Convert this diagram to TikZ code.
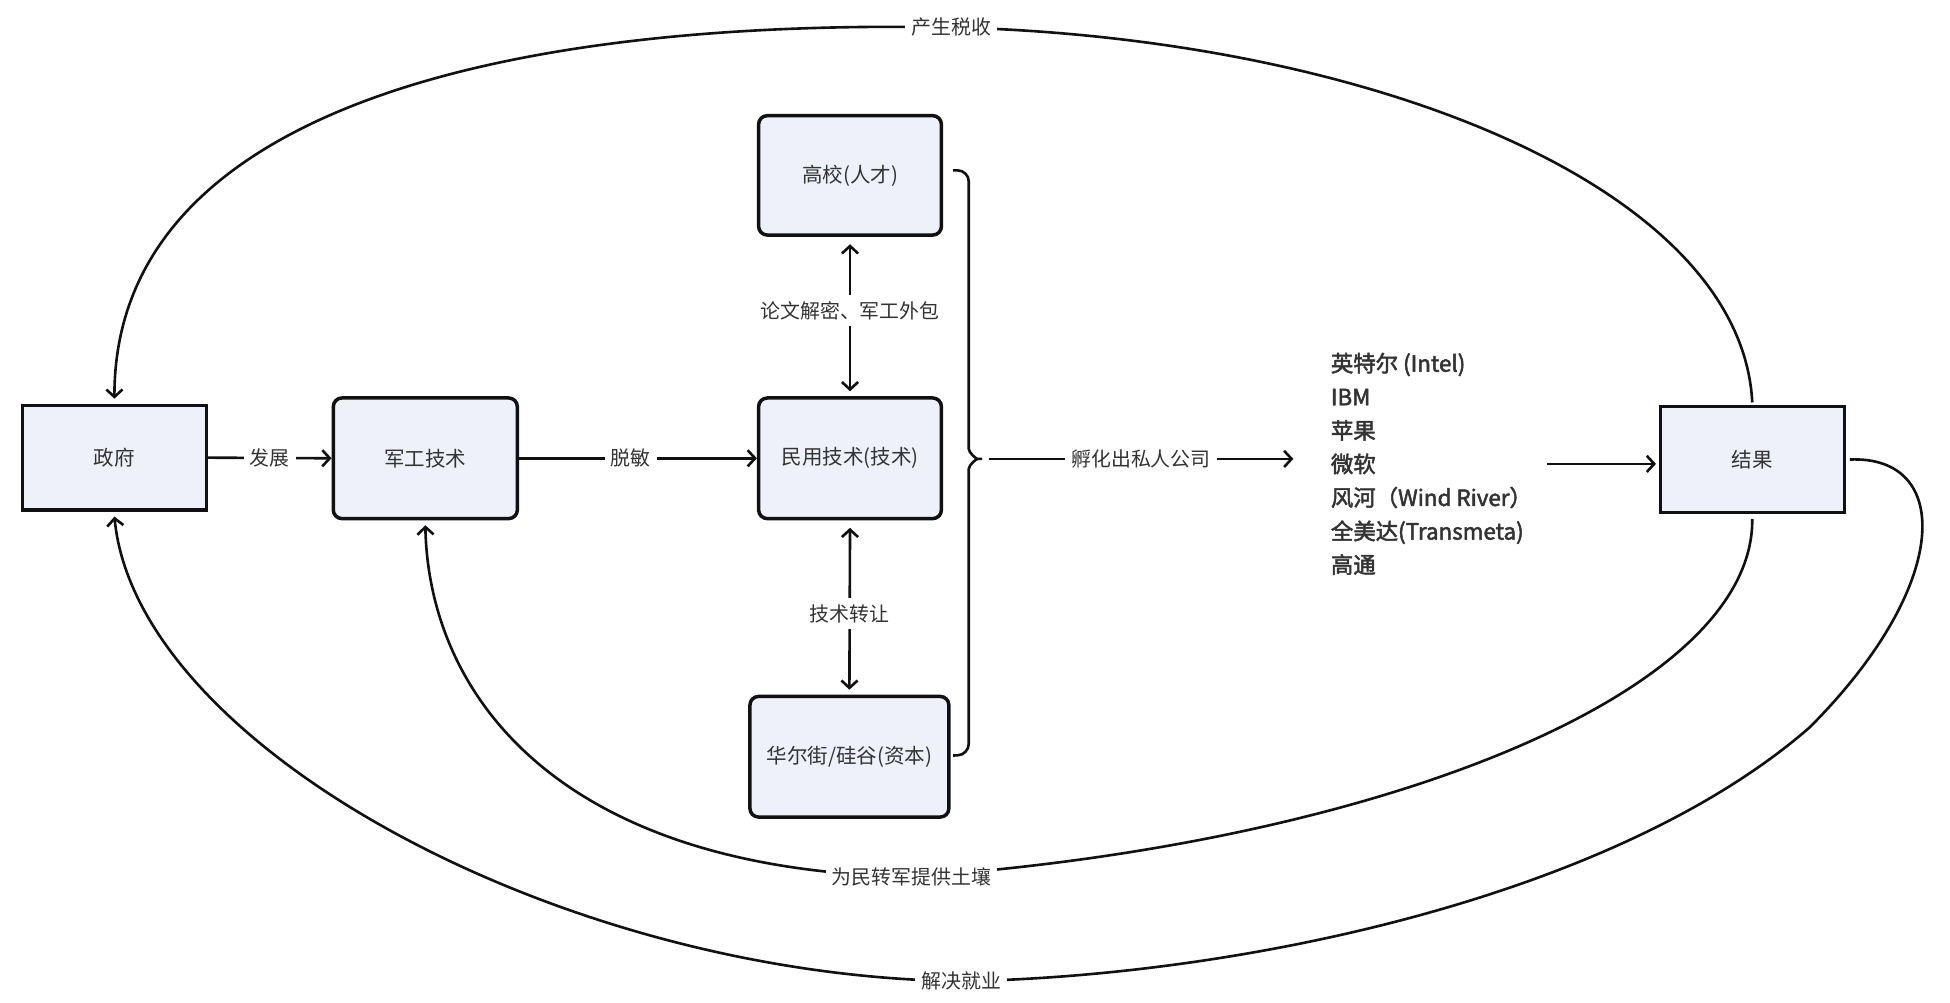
\documentclass[tikz,border=0pt]{standalone}
\usepackage{fontspec}
\setmainfont{Noto Sans CJK SC}
\newfontfamily\cjkb{Noto Sans CJK SC}[FakeBold=2.2]
\usetikzlibrary{arrows.meta,calc}
\definecolor{boxfill}{HTML}{EEF1FA}
\definecolor{txt}{HTML}{333333}
\definecolor{ln}{HTML}{111111}
\begin{document}
\begin{tikzpicture}[x=1pt,y=-1pt,
  >={Straight Barb[length=6pt,width=13pt]},
  sbox/.style={draw=ln,line width=2.8pt,fill=boxfill,text=txt,font=\fontsize{16.5}{18}\selectfont,inner sep=0pt},
  rbox/.style={sbox,rounded corners=7pt},
  conn/.style={draw=ln,line width=2.1pt},
  lab/.style={fill=white,text=txt,font=\fontsize{16}{18}\selectfont,inner sep=5pt},
  colist/.style={text=txt,font=\fontsize{18}{27}\selectfont\cjkb,align=left,inner sep=0pt}
]
\useasboundingbox (0,0) rectangle (1568,806);
\fill[white] (0,0) rectangle (1568,806);

\node[sbox,minimum width=148pt,minimum height=84pt] (gov) at (92,368) {政府};
\node[rbox,minimum width=148pt,minimum height=97pt] (mil) at (342,368.5) {军工技术};
\node[rbox,minimum width=147pt,minimum height=96pt] (uni) at (683.5,141) {高校(人才)};
\node[rbox,minimum width=147pt,minimum height=97pt] (civ) at (683.5,368.5) {民用技术(技术)};
\node[rbox,minimum width=160pt,minimum height=97pt] (wall) at (683,608.5) {华尔街/硅谷(资本)};
\node[sbox,minimum width=148pt,minimum height=85pt] (res) at (1409,369.5) {结果};

\node[colist,anchor=west] (cos) at (1070,373) {英特尔 (Intel)\\IBM\\苹果\\微软\\风河（Wind River）\\全美达(Transmeta)\\高通};

% straight connectors
\draw[conn,->] (gov.east) -- node[lab]{发展} (mil.west);
\draw[conn,->] (mil.east) -- node[lab,pos=0.47]{脱敏} (civ.west);
\draw[conn,<->] (uni.south) ++(0,6) -- node[lab,pos=0.45]{论文解密、军工外包} ($(civ.north)+(0,-4)$);
\draw[conn,<->] (civ.south) ++(0,6) -- node[lab,pos=0.53]{技术转让} ($(wall.north)+(0,-4)$);

% brace
\coordinate (btop) at ($(uni.east)+(8,-4)$);
\coordinate (bbot) at ($(wall.east)+(2,-1)$);
\coordinate (tip) at (795,369);
\draw[conn,rounded corners=9pt] (btop) -- (779,137) -- (779,352)
  .. controls (779,364) and (785,369) .. (tip)
  .. controls (785,369) and (779,374) .. (779,386) -- (779,607) -- (bbot);

\coordinate (ae) at (1040,369);
\draw[conn,->] (tip) -- node[lab]{孵化出私人公司} (ae);

\draw[conn,->] ($(cos.east)+(12,0)$) -- ($(cos.east -| res.west)+(-2,0)$);

% big curves
\draw[conn,->] ($(res.north)+(0,-2)$) .. controls (1400,150) and (1100,30) .. (765,22)
  .. controls (400,15) and (92,90) .. ($(gov.north)+(0,-4)$);
\node[lab] (tax) at (765,22) {产生税收};

\draw[conn,->] ($(res.south)+(0,4)$) .. controls (1410,560) and (1100,680) .. (733,705)
  .. controls (450,700) and (345,560) .. ($(mil.south)+(0,4)$);
\node[lab] (soil) at (733,705) {为民转军提供土壤};

\draw[conn,->] ($(res.east)+(3,0)$) .. controls (1570,366) and (1570,470) .. (1455,585)
  .. controls (1300,720) and (1000,785) .. (773,789)
  .. controls (450,785) and (110,600) .. ($(gov.south)+(0,4)$);
\node[lab] (job) at (773,789) {解决就业};
\end{tikzpicture}
\end{document}
